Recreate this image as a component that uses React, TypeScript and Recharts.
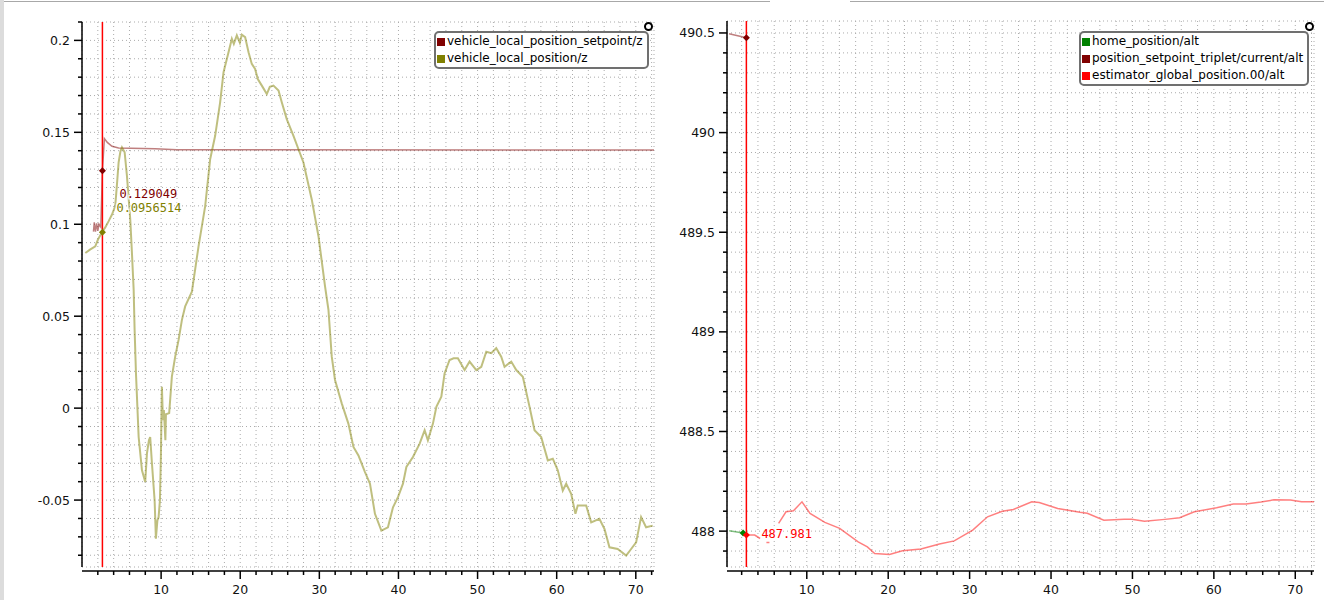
import React from "react";
import {
  CartesianGrid,
  Legend,
  Line,
  LineChart,
  ReferenceDot,
  ReferenceLine,
  XAxis,
  YAxis,
} from "recharts";

// shared tracker time (s)
const CURSOR_T = 2.58;

// ---- left plot ----
const spT = [1.45, 1.55, 1.7, 1.85, 2.0, 2.15, 2.38, 2.58, 2.83, 3.2, 3.79, 4.63, 9.26, 12.0, 72.3];
const spZ = [0.096, 0.101, 0.096, 0.1005, 0.0965, 0.1, 0.0985, 0.129049, 0.1466, 0.1445, 0.1424, 0.1415, 0.141, 0.1405, 0.1404];

const lposT = [
  0.42, 1.01, 1.68, 2.02, 2.53, 2.94, 3.37, 3.79, 4.2, 4.42,
  4.63, 4.86, 5.05, 5.39, 5.68, 6.1, 6.31, 6.53, 6.65, 6.82,
  7.16, 7.58, 7.99, 8.21, 8.46, 8.62, 8.84, 9.18, 9.34, 9.53,
  9.68, 9.85, 9.97, 10.1, 10.23, 10.35, 10.54, 10.61, 11.02, 11.36,
  11.78, 12.21, 12.63, 13.04, 13.89, 14.73, 15.57, 16.2, 16.83, 17.46,
  17.89, 18.52, 18.94, 19.19, 19.57, 19.95, 20.2, 20.62, 21.05, 21.46,
  21.88, 22.22, 22.73, 23.36, 23.74, 24.2, 24.84, 25.25, 25.88, 26.73,
  27.36, 27.99, 29.04, 29.89, 30.72, 31.15, 31.57, 31.98, 32.83, 33.67,
  34.31, 34.94, 35.77, 36.4, 37.03, 37.84, 38.67, 39.31, 39.94, 40.57,
  41.0, 41.83, 42.68, 43.31, 43.72, 44.36, 44.79, 45.42, 45.83, 46.46,
  46.97, 47.51, 48.36, 48.99, 49.84, 50.47, 51.1, 51.73, 52.36, 52.99,
  53.41, 54.26, 54.89, 55.72, 56.57, 57.2, 58.04, 58.88, 59.51, 60.14,
  60.77, 61.2, 61.83, 62.37, 62.66, 63.72, 64.36, 65.4, 66.04, 66.67,
  67.71, 68.78, 69.41, 70.04, 70.67, 71.3, 72.13,
];
const lposZ = [
  0.0844, 0.0862, 0.088, 0.0917, 0.0957, 0.0983, 0.1017, 0.1053, 0.1099, 0.1217,
  0.1337, 0.1397, 0.1418, 0.1392, 0.1263, 0.1026, 0.0846, 0.0644, 0.0426, 0.0191,
  -0.0157, -0.0338, -0.0402, -0.0246, -0.0175, -0.0157, -0.03, -0.0502, -0.071, -0.0611,
  -0.0593, -0.0502, -0.0266, 0.0116, -0.0066, -0.0011, -0.0175, -0.0033, -0.0027, 0.0171,
  0.028, 0.0371, 0.048, 0.0553, 0.0633, 0.088, 0.1099, 0.1354, 0.1481, 0.1663,
  0.1827, 0.1936, 0.2009, 0.1981, 0.2027, 0.1987, 0.2031, 0.2018, 0.1936, 0.1872,
  0.1845, 0.179, 0.1754, 0.1708, 0.1747, 0.1754, 0.1727, 0.1663, 0.1572, 0.1481,
  0.1408, 0.1336, 0.1135, 0.0935, 0.0662, 0.0535, 0.028, 0.0153, 0.0026, -0.0084,
  -0.0211, -0.0257, -0.0348, -0.0411, -0.0575, -0.0666, -0.0648, -0.0539, -0.0484, -0.0411,
  -0.032, -0.0266, -0.0193, -0.012, -0.0175, -0.0084, 0.0007, 0.0062, 0.0189, 0.0262,
  0.0271, 0.0271, 0.0207, 0.0253, 0.0207, 0.0225, 0.0307, 0.0299, 0.0326, 0.028,
  0.0225, 0.0253, 0.0207, 0.0171, 0.0007, -0.012, -0.0157, -0.0284, -0.0275, -0.0338,
  -0.0448, -0.0411, -0.0466, -0.0575, -0.0529, -0.0529, -0.0621, -0.0602, -0.0657, -0.0757,
  -0.0766, -0.0802, -0.0766, -0.073, -0.0593, -0.0648, -0.0639,
];

// ---- right plot ----
const homeT = [0.47, 2.18];
const homeAlt = [488.0015, 487.991];
const tripT = [0.45, 2.58];
const tripAlt = [490.496, 490.476];
const estT = [
  2.2, 2.58, 3.6, 4.27, 4.6, 5.04, 5.41, 6.0, 6.54, 7.45,
  8.36, 9.41, 10.4, 12.22, 14.04, 16.31, 17.44, 18.34, 20.16, 21.75,
  24.02, 26.29, 28.11, 30.38, 32.2, 34.01, 35.37, 37.64, 38.55, 40.82,
  43.55, 44.45, 46.49, 48.99, 49.9, 51.48, 53.99, 55.79, 57.61, 60.33,
  62.38, 63.96, 65.78, 67.37, 69.41, 70.77, 72.37,
];
const estAlt = [
  487.99, 487.981, 487.98, 487.963, null, 487.943, 487.943, null, 488.039, 488.097,
  488.102, 488.147, 488.089, 488.044, 488.014, 487.946, 487.921, 487.888, 487.883, 487.901,
  487.91, 487.935, 487.951, 488.005, 488.072, 488.1, 488.109, 488.147, 488.144, 488.114,
  488.095, 488.09, 488.055, 488.06, 488.06, 488.05, 488.059, 488.067, 488.097, 488.117,
  488.136, 488.136, 488.146, 488.157, 488.156, 488.147, 488.147,
];

// series names, in legend order
const leftNames = ["vehicle_local_position_setpoint/z", "vehicle_local_position/z"];
const rightNames = ["home_position/alt", "position_setpoint_triplet/current/alt", "estimator_global_position.00/alt"];

// tick labels
const xMajor = [10, 20, 30, 40, 50, 60, 70];
const zMajor = [-0.05, 0, 0.05, 0.1, 0.15, 0.2];
const altMajor = [488, 488.5, 489, 489.5, 490, 490.5];

const xTicks = Array.from({ length: 36 }, (_, i) => 2 * (i + 1));
const zTicks = Array.from({ length: 30 }, (_, i) => Math.round((-0.08 + i * 0.01) * 100) / 100);
const altTicks = Array.from({ length: 27 }, (_, i) => Math.round((487.9 + i * 0.1) * 10) / 10);

const toPoints = (ts: number[], vs: (number | null)[]) => ts.map((t, i) => ({ t, v: vs[i] }));

const AXIS_FONT = '"DejaVu Sans", sans-serif';
const MONO_FONT = '"DejaVu Sans Mono", monospace';
const GRID = "#ababab";

const isMajor = (v: number, majors: number[]) => majors.some((m) => Math.abs(m - v) < 1e-6);
const fmtTick = (v: number) => String(Number(v.toFixed(4)));

function YTick({ x, y, payload, majors }: any) {
  const major = isMajor(payload.value, majors);
  return (
    <g>
      <line x1={x - (major ? 8 : 4)} x2={x} y1={y} y2={y} stroke="#000" strokeWidth={1.5} />
      {major && (
        <text x={x - 12} y={y} textAnchor="end" dominantBaseline="central" fontSize={12.5} fontFamily={AXIS_FONT} fill="#111">
          {fmtTick(payload.value)}
        </text>
      )}
    </g>
  );
}

function XTick({ x, y, payload }: any) {
  const major = isMajor(payload.value, xMajor);
  const y0 = y + 4;
  return (
    <g>
      <line x1={x} x2={x} y1={y0} y2={y0 + (major ? 8 : 4)} stroke="#000" strokeWidth={1.5} />
      {major && (
        <text x={x} y={y0 + 18} textAnchor="middle" dominantBaseline="central" fontSize={12.5} fontFamily={AXIS_FONT} fill="#111">
          {payload.value}
        </text>
      )}
    </g>
  );
}

function CursorMark({ cx, cy, color, label, dx = 0, dy = 0 }: any) {
  return (
    <g>
      <path d={`M${cx - 3.5},${cy}L${cx},${cy - 3.5}L${cx + 3.5},${cy}L${cx},${cy + 3.5}Z`} fill={color} />
      {label && (
        <text
          x={cx + dx}
          y={cy + dy}
          fill={color}
          fontFamily={MONO_FONT}
          fontSize={12}
          dominantBaseline="central"
          stroke="#fff"
          strokeWidth={3}
          strokeOpacity={0.8}
          paintOrder="stroke"
        >
          {label}
        </text>
      )}
    </g>
  );
}

function BoxLegend({ payload }: any) {
  return (
    <div
      style={{
        background: "#fff",
        border: "2px solid #707070",
        borderRadius: 5,
        padding: "0 4px 0 1px",
        fontFamily: AXIS_FONT,
        fontSize: 12,
        lineHeight: "17px",
        color: "#000",
      }}
    >
      {(payload ?? []).map((p: any) => (
        <div key={p.value} style={{ display: "flex", alignItems: "center", whiteSpace: "nowrap" }}>
          <span style={{ width: 8, height: 8, background: p.color, marginRight: 2, flex: "none" }} />
          {p.value}
        </div>
      ))}
    </div>
  );
}

function Ring({ left, top }: { left: number; top: number }) {
  return (
    <div
      style={{
        position: "absolute",
        left,
        top,
        width: 5,
        height: 5,
        border: "2px solid #000",
        borderRadius: "50%",
        background: "#fff",
      }}
    />
  );
}

const lineProps = { dot: false, activeDot: false, isAnimationActive: false, type: "linear" as const };

export default function App() {
  const spData = toPoints(spT, spZ);
  const lposData = toPoints(lposT, lposZ);
  const homeData = toPoints(homeT, homeAlt);
  const tripData = toPoints(tripT, tripAlt);
  const estData = toPoints(estT, estAlt);

  return (
    <div
      style={{
        position: "absolute",
        left: 0,
        top: 0,
        width: 1324,
        height: 600,
        background: "#fff",
        overflow: "hidden",
        fontFamily: AXIS_FONT,
      }}
    >
      {/* window frame bits */}
      <div style={{ position: "absolute", left: 0, top: 0, width: 4, height: 600, background: "#dcdcdc" }} />
      <div style={{ position: "absolute", left: 4, top: 1, width: 656, height: 1, background: "#a8a8a8" }} />
      <div style={{ position: "absolute", left: 660, top: 1, width: 110, height: 1, background: "#a8a8a8" }} />
      <div style={{ position: "absolute", left: 850, top: 1, width: 474, height: 1, background: "#a8a8a8" }} />

      <div style={{ position: "absolute", left: 0, top: 0 }}>
        <LineChart width={660} height={600} margin={{ top: 22, right: 6, bottom: 0, left: 0 }}>
          <CartesianGrid stroke={GRID} strokeDasharray="1 3" />
          <XAxis
            dataKey="t"
            type="number"
            domain={[0, 72.3]}
            allowDataOverflow
            ticks={xTicks}
            interval={0}
            tickSize={0}
            tickMargin={0}
            tickLine={false}
            tick={<XTick />}
            axisLine={{ stroke: "#000", strokeWidth: 1.5, transform: "translate(0,4)" }}
            height={33}
          />
          <YAxis
            type="number"
            domain={[-0.0864, 0.21]}
            allowDataOverflow
            ticks={zTicks}
            interval={0}
            tickSize={0}
            tickMargin={0}
            tickLine={false}
            tick={<YTick majors={zMajor} />}
            axisLine={{ stroke: "#000", strokeWidth: 1.5 }}
            width={82}
          />
          <Legend
            layout="vertical"
            align="center"
            verticalAlign="middle"
            itemSorter={(item: any) => leftNames.indexOf(item.value)}
            content={<BoxLegend />}
            wrapperStyle={{ left: 434, top: 31, width: "auto" }}
          />
          <Line {...lineProps} data={spData} dataKey="v" name={leftNames[0]} stroke="#800000" strokeOpacity={0.5} strokeWidth={1.5} />
          <Line {...lineProps} data={lposData} dataKey="v" name={leftNames[1]} stroke="#808000" strokeOpacity={0.5} strokeWidth={2} />
          <ReferenceLine x={CURSOR_T} stroke="#ff0000" strokeWidth={1.5} />
          <ReferenceDot x={CURSOR_T} y={0.129049} shape={<CursorMark color="#800000" label="0.129049" dx={17} dy={23} />} />
          <ReferenceDot x={CURSOR_T} y={0.0956514} shape={<CursorMark color="#808000" label="0.0956514" dx={14} dy={-24} />} />
        </LineChart>
        <Ring left={644} top={22} />
      </div>

      <div style={{ position: "absolute", left: 660, top: 0 }}>
        <LineChart width={664} height={600} margin={{ top: 21, right: 10, bottom: 0, left: 0 }}>
          <CartesianGrid stroke={GRID} strokeDasharray="1 3" />
          <XAxis
            dataKey="t"
            type="number"
            domain={[0.2, 72.3]}
            allowDataOverflow
            ticks={xTicks}
            interval={0}
            tickSize={0}
            tickMargin={0}
            tickLine={false}
            tick={<XTick />}
            axisLine={{ stroke: "#000", strokeWidth: 1.5, transform: "translate(0,4)" }}
            height={33}
          />
          <YAxis
            type="number"
            domain={[487.82, 490.56]}
            allowDataOverflow
            ticks={altTicks}
            interval={0}
            tickSize={0}
            tickMargin={0}
            tickLine={false}
            tick={<YTick majors={altMajor} />}
            axisLine={{ stroke: "#000", strokeWidth: 1.5 }}
            width={67}
          />
          <Legend
            layout="vertical"
            align="center"
            verticalAlign="middle"
            itemSorter={(item: any) => rightNames.indexOf(item.value)}
            content={<BoxLegend />}
            wrapperStyle={{ left: 419, top: 31, width: "auto" }}
          />
          <Line {...lineProps} data={homeData} dataKey="v" name={rightNames[0]} stroke="#008000" strokeOpacity={0.5} strokeWidth={1.5} />
          <Line {...lineProps} data={tripData} dataKey="v" name={rightNames[1]} stroke="#800000" strokeOpacity={0.5} strokeWidth={1.5} />
          <Line {...lineProps} data={estData} dataKey="v" name={rightNames[2]} stroke="#ff0000" strokeOpacity={0.5} strokeWidth={1.5} />
          <ReferenceLine x={CURSOR_T} stroke="#ff0000" strokeWidth={1.5} />
          <ReferenceDot x={CURSOR_T} y={490.476} shape={<CursorMark color="#800000" />} />
          <ReferenceDot x={2.18} y={487.991} shape={<CursorMark color="#008000" />} />
          <ReferenceDot x={CURSOR_T} y={487.981} shape={<CursorMark color="#ff0000" label="487.981" dx={15} dy={-1} />} />
        </LineChart>
        <Ring left={645} top={22} />
      </div>
    </div>
  );
}
